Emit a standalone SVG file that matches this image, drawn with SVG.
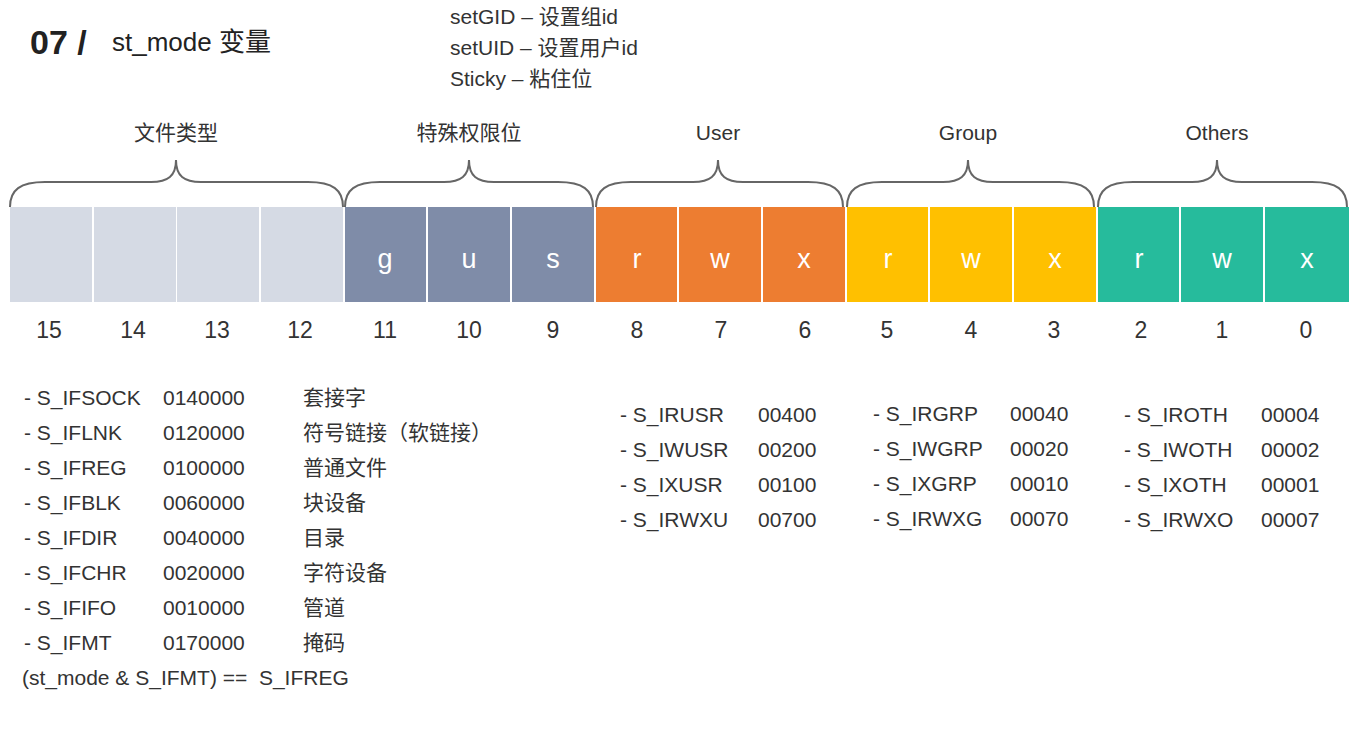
<svg xmlns="http://www.w3.org/2000/svg" width="1352" height="732" viewBox="0 0 1352 732">
<style>
text{font-family:"Liberation Sans","Noto Sans CJK SC",sans-serif;fill:#333}
.t{font-size:21px}
.c{font-size:27px;fill:#fff;text-anchor:middle}
.n{font-size:23px;text-anchor:middle}
.h{font-size:21px;text-anchor:middle}
.b{fill:none;stroke:#666;stroke-width:2}
</style>
<rect width="1352" height="732" fill="#fff"/>
<text x="30" y="54" font-size="34" font-weight="bold" style="fill:#222">07 /</text>
<text x="112" y="51" font-size="26" style="fill:#222">st_mode 变量</text>
<text class="t" x="450" y="24">setGID – 设置组id</text>
<text class="t" x="450" y="55">setUID – 设置用户id</text>
<text class="t" x="450" y="86">Sticky – 粘住位</text>
<g id="headers">
<text class="h" x="176" y="140">文件类型</text>
<text class="h" x="469" y="140">特殊权限位</text>
<text class="h" x="718" y="140">User</text>
<text class="h" x="968" y="140">Group</text>
<text class="h" x="1217" y="140">Others</text>
</g>
<g id="connectors">
<path class="b" d="M10,207 C10,190 20,182 45,182 L151,182 C168,182 176,176 176,160 C176,176 184,182 201,182 L308,182 C333,182 343,190 343,207"/>
<path class="b" d="M345,207 C345,190 355,182 380,182 L444,182 C461,182 469,176 469,160 C469,176 477,182 494,182 L558,182 C583,182 593,190 593,207"/>
<path class="b" d="M596,207 C596,190 606,182 631,182 L693,182 C710,182 718,176 718,160 C718,176 726,182 743,182 L808,182 C833,182 843,190 843,207"/>
<path class="b" d="M847,207 C847,190 857,182 882,182 L943,182 C960,182 968,176 968,160 C968,176 976,182 993,182 L1059,182 C1084,182 1094,190 1094,207"/>
<path class="b" d="M1098,207 C1098,190 1108,182 1133,182 L1192,182 C1209,182 1217,176 1217,160 C1217,176 1225,182 1242,182 L1312,182 C1337,182 1347,190 1347,207"/>
</g>
<g id="cells">
<rect x="10" y="207" width="82" height="95" fill="#d5dae4"/>
<rect x="94" y="207" width="82" height="95" fill="#d5dae4"/>
<rect x="177" y="207" width="82" height="95" fill="#d5dae4"/>
<rect x="261" y="207" width="82" height="95" fill="#d5dae4"/>
<rect x="345" y="207" width="81" height="95" fill="#7f8ca8"/>
<rect x="428" y="207" width="82" height="95" fill="#7f8ca8"/>
<rect x="512" y="207" width="82" height="95" fill="#7f8ca8"/>
<rect x="596" y="207" width="81" height="95" fill="#ed7d31"/>
<rect x="679" y="207" width="82" height="95" fill="#ed7d31"/>
<rect x="763" y="207" width="82" height="95" fill="#ed7d31"/>
<rect x="847" y="207" width="81" height="95" fill="#ffc000"/>
<rect x="930" y="207" width="82" height="95" fill="#ffc000"/>
<rect x="1014" y="207" width="82" height="95" fill="#ffc000"/>
<rect x="1098" y="207" width="81" height="95" fill="#26bb9c"/>
<rect x="1181" y="207" width="82" height="95" fill="#26bb9c"/>
<rect x="1265" y="207" width="84" height="95" fill="#26bb9c"/>
<text class="c" x="385" y="268">g</text><text class="c" x="469" y="268">u</text><text class="c" x="553" y="268">s</text>
<text class="c" x="637" y="268">r</text><text class="c" x="720" y="268">w</text><text class="c" x="804" y="268">x</text>
<text class="c" x="888" y="268">r</text><text class="c" x="971" y="268">w</text><text class="c" x="1055" y="268">x</text>
<text class="c" x="1139" y="268">r</text><text class="c" x="1222" y="268">w</text><text class="c" x="1307" y="268">x</text>
</g>
<g id="numbers">
<text class="n" x="49" y="338">15</text><text class="n" x="133" y="338">14</text><text class="n" x="217" y="338">13</text><text class="n" x="300" y="338">12</text>
<text class="n" x="385" y="338">11</text><text class="n" x="469" y="338">10</text><text class="n" x="553" y="338">9</text>
<text class="n" x="637" y="338">8</text><text class="n" x="721" y="338">7</text><text class="n" x="805" y="338">6</text>
<text class="n" x="887" y="338">5</text><text class="n" x="971" y="338">4</text><text class="n" x="1054" y="338">3</text>
<text class="n" x="1141" y="338">2</text><text class="n" x="1222" y="338">1</text><text class="n" x="1306" y="338">0</text>
</g>
<g id="filetypes">
<text class="t" x="24" y="405">- S_IFSOCK</text><text class="t" x="163" y="405">0140000</text><text class="t" x="303" y="405">套接字</text>
<text class="t" x="24" y="440">- S_IFLNK</text><text class="t" x="163" y="440">0120000</text><text class="t" x="303" y="440">符号链接（软链接）</text>
<text class="t" x="24" y="475">- S_IFREG</text><text class="t" x="163" y="475">0100000</text><text class="t" x="303" y="475">普通文件</text>
<text class="t" x="24" y="510">- S_IFBLK</text><text class="t" x="163" y="510">0060000</text><text class="t" x="303" y="510">块设备</text>
<text class="t" x="24" y="545">- S_IFDIR</text><text class="t" x="163" y="545">0040000</text><text class="t" x="303" y="545">目录</text>
<text class="t" x="24" y="580">- S_IFCHR</text><text class="t" x="163" y="580">0020000</text><text class="t" x="303" y="580">字符设备</text>
<text class="t" x="24" y="615">- S_IFIFO</text><text class="t" x="163" y="615">0010000</text><text class="t" x="303" y="615">管道</text>
<text class="t" x="24" y="650">- S_IFMT</text><text class="t" x="163" y="650">0170000</text><text class="t" x="303" y="650">掩码</text>
<text class="t" x="22" y="685" style="white-space:pre">(st_mode &amp; S_IFMT) ==  S_IFREG</text>
</g>
<g id="user">
<text class="t" x="620" y="422">- S_IRUSR</text><text class="t" x="758" y="422">00400</text>
<text class="t" x="620" y="457">- S_IWUSR</text><text class="t" x="758" y="457">00200</text>
<text class="t" x="620" y="492">- S_IXUSR</text><text class="t" x="758" y="492">00100</text>
<text class="t" x="620" y="527">- S_IRWXU</text><text class="t" x="758" y="527">00700</text>
</g>
<g id="group">
<text class="t" x="873" y="421">- S_IRGRP</text><text class="t" x="1010" y="421">00040</text>
<text class="t" x="873" y="456">- S_IWGRP</text><text class="t" x="1010" y="456">00020</text>
<text class="t" x="873" y="491">- S_IXGRP</text><text class="t" x="1010" y="491">00010</text>
<text class="t" x="873" y="526">- S_IRWXG</text><text class="t" x="1010" y="526">00070</text>
</g>
<g id="others">
<text class="t" x="1124" y="422">- S_IROTH</text><text class="t" x="1261" y="422">00004</text>
<text class="t" x="1124" y="457">- S_IWOTH</text><text class="t" x="1261" y="457">00002</text>
<text class="t" x="1124" y="492">- S_IXOTH</text><text class="t" x="1261" y="492">00001</text>
<text class="t" x="1124" y="527">- S_IRWXO</text><text class="t" x="1261" y="527">00007</text>
</g>
</svg>
